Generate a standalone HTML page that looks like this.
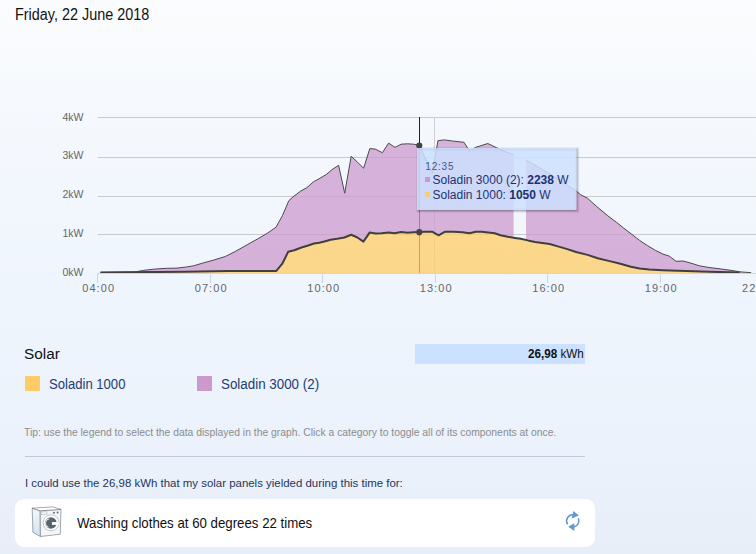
<!DOCTYPE html>
<html><head><meta charset="utf-8">
<style>
html,body{margin:0;padding:0}
body{width:756px;height:554px;overflow:hidden;position:relative;
background:linear-gradient(180deg,#fbfcfe 0px,#f4f8fd 140px,#eff5fd 300px,#ebf2fb 450px,#e7eef7 554px);
font-family:"Liberation Sans",sans-serif;}
.abs{position:absolute;white-space:nowrap;transform-origin:0 0}
#title{left:14.5px;top:6px;font-size:16px;color:#111;transform:scaleX(0.9)}
svg text{font-family:"Liberation Sans",sans-serif;}
#solar{left:23.5px;top:345px;font-size:15.5px;color:#111;transform:scaleX(0.99)}
.leg{top:376px;width:15px;height:15px}
.legt{color:#1f3b74}
#leg1{left:49px;top:376px;font-size:14px;transform:scaleX(0.935)}
#leg2{left:221px;top:376px;font-size:14px;transform:scaleX(0.955)}
#bar{left:415px;top:344px;width:170px;height:20px;background:#cce0ff}
#bartxt{left:527.5px;top:347px;font-size:12px;color:#111;transform:scaleX(0.973)}
#tip{left:24px;top:426px;font-size:11.5px;color:#8c8c8c;transform:scaleX(0.9)}
#hr{left:25px;top:456px;width:560px;height:1px;background:#bfcadb}
#could{left:24.5px;top:477px;font-size:11.5px;color:#1f3561;transform:scaleX(0.995)}
#card{left:15px;top:499px;width:580px;height:48px;background:#fff;border-radius:9px}
#wash{left:77px;top:515px;font-size:14.5px;color:#111;transform:scaleX(0.914)}
</style></head><body>
<div id="title" class="abs">Friday, 22 June 2018</div>
<svg class="abs" style="left:0;top:0" width="756" height="300" viewBox="0 0 756 300">
<g stroke="#cacaca" stroke-width="1">
<line x1="98" y1="117.5" x2="756" y2="117.5"/>
<line x1="98" y1="157.5" x2="756" y2="157.5"/>
<line x1="98" y1="196.5" x2="756" y2="196.5"/>
<line x1="98" y1="234.5" x2="756" y2="234.5"/>
</g>
<line x1="434.5" y1="117" x2="434.5" y2="273" stroke="#cfcfcf" stroke-width="1"/>
<line x1="419.5" y1="117" x2="419.5" y2="273" stroke="#222" stroke-width="1"/>
<g>
<path d="M100.5 272.4 L185.0 271.8 L228.4 271.1 L276.3 270.9 L282.3 263.7 L288.2 251.7 L294.2 250.2 L301.5 247.5 L308.1 245.5 L314.0 243.5 L319.3 242.8 L325.3 241.2 L330.6 239.8 L337.2 238.8 L344.4 237.5 L351.1 234.8 L357.0 237.2 L363.4 241.6 L369.6 232.6 L375.8 233.4 L381.6 233.2 L388.8 232.5 L394.6 233.2 L401.1 231.9 L407.6 232.7 L413.4 232.2 L419.1 232.0 L425.6 231.8 L432.1 231.7 L438.6 235.3 L445.1 231.7 L453.8 231.7 L462.5 232.2 L469.4 233.2 L475.9 231.7 L481.7 231.7 L488.2 232.5 L494.7 233.2 L500.5 235.3 L507.7 236.8 L514.9 237.9 L520.7 238.7 L527.9 240.4 L535.1 241.9 L542.4 242.9 L549.6 244.0 L558.7 246.6 L567.3 249.1 L576.0 252.0 L587.6 254.9 L597.7 258.2 L610.7 261.4 L619.4 263.5 L630.9 266.8 L639.6 268.6 L649.2 269.5 L663.0 270.2 L686.0 271.0 L709.0 271.8 L739.7 272.4 L739.7 273 L100.5 273 Z" fill="#ffcc66" fill-opacity="0.75"/>
<path d="M100.5 272.4 L134.7 272.0 L142.6 270.5 L154.5 269.1 L166.4 268.3 L177.0 268.1 L186.3 267.0 L193.7 265.8 L202.3 263.2 L213.9 260.0 L225.5 256.4 L235.6 251.3 L247.1 244.8 L258.7 238.3 L267.4 233.2 L276.0 227.2 L282.5 215.5 L288.8 200.7 L293.1 196.8 L300.3 191.3 L306.8 187.7 L313.4 181.9 L319.9 178.3 L326.4 174.4 L332.1 169.6 L338.6 165.3 L344.7 193.2 L351.2 156.2 L357.5 162.2 L363.6 168.2 L369.8 148.6 L375.2 149.1 L382.4 152.7 L388.6 143.1 L395.0 147.4 L401.2 144.2 L407.7 143.8 L413.5 144.2 L419.2 145.2 L425.5 159.0 L432.3 172.7 L438.0 140.6 L444.5 139.9 L451.7 140.9 L464.0 142.3 L469.7 151.4 L475.5 147.4 L487.8 143.5 L496.5 147.7 L505.0 151.7 L513.6 154.5 L513.6 237.7 L507.7 236.8 L500.5 235.3 L494.7 233.2 L488.2 232.5 L481.7 231.7 L475.9 231.7 L469.4 233.2 L462.5 232.2 L453.8 231.7 L445.1 231.7 L438.6 235.3 L432.1 231.7 L425.6 231.8 L419.1 232.0 L413.4 232.2 L407.6 232.7 L401.1 231.9 L394.6 233.2 L388.8 232.5 L381.6 233.2 L375.8 233.4 L369.6 232.6 L363.4 241.6 L357.0 237.2 L351.1 234.8 L344.4 237.5 L337.2 238.8 L330.6 239.8 L325.3 241.2 L319.3 242.8 L314.0 243.5 L308.1 245.5 L301.5 247.5 L294.2 250.2 L288.2 251.7 L282.3 263.7 L276.3 270.9 L228.4 271.1 L185.0 271.8 L100.5 272.4 Z" fill="#cc99cc" fill-opacity="0.75"/>
<path d="M526.0 160.0 L538.9 167.5 L553.4 176.1 L567.8 185.5 L576.5 191.3 L580.8 194.9 L587.3 198.1 L596.7 206.5 L607.8 215.8 L616.5 222.3 L623.7 228.1 L633.1 235.3 L639.6 240.4 L647.7 245.7 L655.3 250.3 L663.0 254.1 L669.2 256.1 L676.1 261.3 L683.0 261.0 L689.1 262.6 L699.8 265.9 L709.0 267.5 L721.3 269.0 L732.1 270.5 L739.7 271.8 L751.2 272.7 L751.2 273.0 L739.7 273.0 L709.0 271.8 L686.0 271.0 L663.0 270.2 L649.2 269.5 L639.6 268.6 L630.9 266.8 L619.4 263.5 L610.7 261.4 L597.7 258.2 L587.6 254.9 L576.0 252.0 L567.3 249.1 L558.7 246.6 L549.6 244.0 L542.4 242.9 L535.1 241.9 L527.9 240.4 L526.0 240.0 Z" fill="#cc99cc" fill-opacity="0.75"/>
<path d="M100.5 272.4 L134.7 272.0 L142.6 270.5 L154.5 269.1 L166.4 268.3 L177.0 268.1 L186.3 267.0 L193.7 265.8 L202.3 263.2 L213.9 260.0 L225.5 256.4 L235.6 251.3 L247.1 244.8 L258.7 238.3 L267.4 233.2 L276.0 227.2 L282.5 215.5 L288.8 200.7 L293.1 196.8 L300.3 191.3 L306.8 187.7 L313.4 181.9 L319.9 178.3 L326.4 174.4 L332.1 169.6 L338.6 165.3 L344.7 193.2 L351.2 156.2 L357.5 162.2 L363.6 168.2 L369.8 148.6 L375.2 149.1 L382.4 152.7 L388.6 143.1 L395.0 147.4 L401.2 144.2 L407.7 143.8 L413.5 144.2 L419.2 145.2 L425.5 159.0 L432.3 172.7 L438.0 140.6 L444.5 139.9 L451.7 140.9 L464.0 142.3 L469.7 151.4 L475.5 147.4 L487.8 143.5 L496.5 147.7 L505.0 151.7 L513.6 154.5" fill="none" stroke="#4a4a4a" stroke-width="1"/>
<path d="M526.0 160.0 L538.9 167.5 L553.4 176.1 L567.8 185.5 L576.5 191.3 L580.8 194.9 L587.3 198.1 L596.7 206.5 L607.8 215.8 L616.5 222.3 L623.7 228.1 L633.1 235.3 L639.6 240.4 L647.7 245.7 L655.3 250.3 L663.0 254.1 L669.2 256.1 L676.1 261.3 L683.0 261.0 L689.1 262.6 L699.8 265.9 L709.0 267.5 L721.3 269.0 L732.1 270.5 L739.7 271.8 L751.2 272.7" fill="none" stroke="#4a4a4a" stroke-width="1"/>
<path d="M100.5 272.4 L185.0 271.8 L228.4 271.1 L276.3 270.9 L282.3 263.7 L288.2 251.7 L294.2 250.2 L301.5 247.5 L308.1 245.5 L314.0 243.5 L319.3 242.8 L325.3 241.2 L330.6 239.8 L337.2 238.8 L344.4 237.5 L351.1 234.8 L357.0 237.2 L363.4 241.6 L369.6 232.6 L375.8 233.4 L381.6 233.2 L388.8 232.5 L394.6 233.2 L401.1 231.9 L407.6 232.7 L413.4 232.2 L419.1 232.0 L425.6 231.8 L432.1 231.7 L438.6 235.3 L445.1 231.7 L453.8 231.7 L462.5 232.2 L469.4 233.2 L475.9 231.7 L481.7 231.7 L488.2 232.5 L494.7 233.2 L500.5 235.3 L507.7 236.8 L514.9 237.9 L520.7 238.7 L527.9 240.4 L535.1 241.9 L542.4 242.9 L549.6 244.0 L558.7 246.6 L567.3 249.1 L576.0 252.0 L587.6 254.9 L597.7 258.2 L610.7 261.4 L619.4 263.5 L630.9 266.8 L639.6 268.6 L649.2 269.5 L663.0 270.2 L686.0 271.0 L709.0 271.8 L739.7 272.4" fill="none" stroke="#3f3f3f" stroke-width="2" stroke-linejoin="round"/>

</g>
<line x1="98" y1="273.5" x2="756" y2="273.5" stroke="#ccd6eb" stroke-width="1"/>
<g stroke="#ccd6eb" stroke-width="1">
<line x1="97.5" y1="273" x2="97.5" y2="283"/>
<line x1="210.5" y1="273" x2="210.5" y2="283"/>
<line x1="322.5" y1="273" x2="322.5" y2="283"/>
<line x1="435.5" y1="273" x2="435.5" y2="283"/>
<line x1="547.5" y1="273" x2="547.5" y2="283"/>
<line x1="660.5" y1="273" x2="660.5" y2="283"/>
</g>
<g font-size="10.5" fill="#666" text-anchor="end">
<text x="83.5" y="121">4kW</text>
<text x="83.5" y="159">3kW</text>
<text x="83.5" y="198">2kW</text>
<text x="83.5" y="237">1kW</text>
<text x="83.5" y="276">0kW</text>
</g>
<g font-size="11" fill="#666" text-anchor="middle" letter-spacing="1.1">
<text x="98.7" y="292">04:00</text>
<text x="211.2" y="292">07:00</text>
<text x="323.8" y="292">10:00</text>
<text x="436.2" y="292">13:00</text>
<text x="548.7" y="292">16:00</text>
<text x="661.2" y="292">19:00</text>
<text x="742" y="292" text-anchor="start">22:00</text>
</g>
<circle cx="419.3" cy="145.5" r="3.1" fill="#444"/>
<circle cx="419.3" cy="232.2" r="3.1" fill="#444"/>
<g>
<g fill="none" stroke="#000" transform="translate(1,1)">
<rect x="417.5" y="148.5" width="158.5" height="61" stroke-opacity="0.05" stroke-width="5"/>
<rect x="417.5" y="148.5" width="158.5" height="61" stroke-opacity="0.1" stroke-width="3"/>
<rect x="417.5" y="148.5" width="158.5" height="61" stroke-opacity="0.15" stroke-width="1"/>
</g>
<rect x="417" y="148" width="159.5" height="62" fill="#cce0ff" fill-opacity="0.85"/>
<text x="425.3" y="170" font-size="10" fill="#23367a" fill-opacity="0.85" letter-spacing="0.8">12:35</text>
<rect x="425" y="177" width="5" height="5" fill="#cc99cc"/>
<text x="432.5" y="184" font-size="12" fill="#1c3270">Soladin 3000 (2): <tspan font-weight="bold">2238</tspan> W</text>
<rect x="425" y="192" width="5" height="5" fill="#ffcc66"/>
<text x="432.5" y="199" font-size="12" fill="#1c3270">Soladin 1000: <tspan font-weight="bold">1050</tspan> W</text>
</g>
</svg>
<div id="solar" class="abs">Solar</div>
<div class="abs leg" style="left:25px;background:#ffcc66"></div>
<div id="leg1" class="abs legt">Soladin 1000</div>
<div class="abs leg" style="left:197px;background:#cc99cc"></div>
<div id="leg2" class="abs legt">Soladin 3000 (2)</div>
<div id="bar" class="abs"></div><div id="bartxt" class="abs"><b>26,98</b> kWh</div>
<div id="tip" class="abs">Tip: use the legend to select the data displayed in the graph. Click a category to toggle all of its components at once.</div>
<div id="hr" class="abs"></div>
<div id="could" class="abs">I could use the 26,98 kWh that my solar panels yielded during this time for:</div>
<div id="card" class="abs"></div>
<svg class="abs" style="left:29px;top:504px" width="36" height="36" viewBox="0 0 36 36">
<defs><linearGradient id="lp" x1="0" y1="0" x2="0" y2="1"><stop offset="0" stop-color="#f3f8fd"/><stop offset="1" stop-color="#cfe3f5"/></linearGradient></defs>
<path d="M3.2 4.2 L11.2 6.8 L11.4 32.5 L3.9 28.2 Z" fill="url(#lp)" stroke="#6a6f75" stroke-width="0.6" stroke-linejoin="round"/>
<path d="M11.2 6.8 L32 5.4 L31.3 30.2 L11.4 32.5 Z" fill="#f3f7fb" stroke="#6a6f75" stroke-width="0.6" stroke-linejoin="round"/>
<path d="M3.2 4.2 L23.5 2.9 L32 5.4 L11.2 6.8 Z" fill="#fff" stroke="#6a6f75" stroke-width="0.6" stroke-linejoin="round"/>
<circle cx="22.1" cy="18.8" r="8" fill="#fff" stroke="#9aa3aa" stroke-width="0.6"/>
<circle cx="21.9" cy="19" r="5.8" fill="#56656f"/>
<path d="M23 18.1 L29.8 18.1 L29.8 20.9 L23 20.9 Z" fill="#fff"/>
<path d="M20.3 14.8 A4.3 4.3 0 0 0 19.6 23.2" stroke="#ffffff" stroke-width="0.9" fill="none"/>
<path d="M12.2 7.9 L17.9 7.6 L17.9 10.3 L12.2 10.6 Z" fill="none" stroke="#9aa" stroke-width="0.5"/>
<circle cx="25" cy="8.8" r="0.95" fill="#5d666d"/><circle cx="28.6" cy="8.5" r="0.95" fill="#5d666d"/>
</svg>
<div id="wash" class="abs">Washing clothes at 60 degrees 22 times</div>
<svg class="abs" style="left:560px;top:505px" width="24" height="32" viewBox="0 0 24 32">
<g fill="none" stroke="#6597d2" stroke-width="1.5">
<path d="M13.3 9.8 A6.2 6.2 0 0 0 7.6 19.4"/>
<path d="M18.3 13.2 A6.2 6.2 0 0 1 13.8 21.9"/>
</g>
<g fill="#6597d2">
<path d="M13.4 6.1 L18.9 10.4 L11.6 13.4 Z"/>
<path d="M14.3 18.3 L8.2 21.8 L14.4 25.9 Z"/>
</g>
</svg>
</body></html>
